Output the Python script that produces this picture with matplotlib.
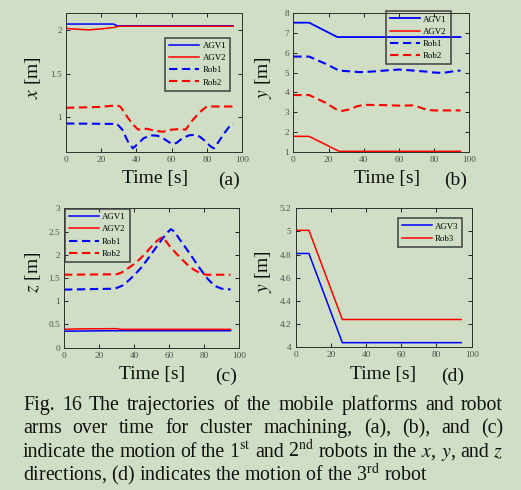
import numpy as np
import matplotlib
matplotlib.use('Agg')
import matplotlib.pyplot as plt

W, H = 521, 490
BG = '#cfdec4'

plt.rcParams['font.family'] = ['Liberation Serif', 'DejaVu Serif']
plt.rcParams['mathtext.fontset'] = 'stix'

# ---- data ----
# (a) x direction
t_agv1_x = [0, 27, 29, 95]
agv1_x = [2.07, 2.07, 2.05, 2.05]
t_agv2_x = [0, 7, 13, 20, 27, 30, 95]
agv2_x = [2.02, 2.01, 2.003, 2.015, 2.03, 2.045, 2.045]
t_rob1_x = [0, 29, 32, 35, 38, 41, 44, 48, 52, 56, 59, 61, 63, 66, 70, 73, 76, 79, 82, 84, 87, 90, 93, 95]
rob1_x = [0.93, 0.925, 0.86, 0.73, 0.645, 0.70, 0.76, 0.795, 0.79, 0.75, 0.71, 0.695, 0.71, 0.76,
          0.795, 0.80, 0.78, 0.73, 0.67, 0.645, 0.73, 0.82, 0.90, 0.93]
t_rob2_x = [0, 20, 29, 31, 35, 38, 41, 46, 50, 55, 60, 64, 68, 72, 76, 80, 95]
rob2_x = [1.11, 1.12, 1.14, 1.12, 1.0, 0.92, 0.86, 0.87, 0.85, 0.835, 0.86, 0.865, 0.86, 0.97, 1.06, 1.125, 1.125]

# (b) y direction
t_agv1_y = [0, 9, 25, 95]
agv1_y = [7.5, 7.5, 6.78, 6.78]
t_agv2_y = [0, 9, 26, 95]
agv2_y = [1.8, 1.8, 1.05, 1.05]
t_rob1_y = [0, 9, 18, 26, 32, 38, 45, 52, 60, 68, 75, 80, 85, 90, 95]
rob1_y = [5.8, 5.8, 5.45, 5.1, 5.06, 5.02, 5.05, 5.1, 5.15, 5.1, 5.05, 5.0, 4.98, 5.05, 5.1]
t_rob2_y = [0, 9, 18, 25, 28, 32, 36, 40, 50, 60, 68, 72, 76, 80, 95]
rob2_y = [3.87, 3.87, 3.5, 3.12, 3.08, 3.15, 3.3, 3.38, 3.37, 3.34, 3.35, 3.25, 3.12, 3.1, 3.1]

# (c) z direction
t_agv1_z = [0, 25, 95]
agv1_z = [0.355, 0.365, 0.365]
t_agv2_z = [0, 8, 30, 32, 95]
agv2_z = [0.395, 0.405, 0.41, 0.395, 0.395]
t_rob1_z = [0, 29, 33, 37, 41, 44, 48, 52, 56, 59, 61, 63, 66, 70, 74, 78, 82, 86, 90, 93, 95]
rob1_z = [1.25, 1.27, 1.33, 1.45, 1.6, 1.72, 1.92, 2.13, 2.34, 2.48, 2.55, 2.5, 2.33, 2.12, 1.9, 1.68,
          1.48, 1.33, 1.27, 1.25, 1.26]
t_rob2_z = [0, 30, 33, 37, 40, 43, 46, 49, 52, 54, 56, 58, 60, 63, 66, 70, 74, 78, 81, 95]
rob2_z = [1.57, 1.58, 1.62, 1.72, 1.8, 1.9, 2.01, 2.14, 2.26, 2.33, 2.38, 2.3, 2.2, 2.07, 1.95, 1.8, 1.68,
          1.6, 1.57, 1.57]

# (d) third robot
t_agv3 = [0, 7.5, 26.5, 94]
agv3_y = [4.81, 4.81, 4.04, 4.04]
t_rob3 = [0, 7.5, 26.5, 94]
rob3_y = [5.01, 5.01, 4.24, 4.24]

fig = plt.figure(figsize=(W / 100, H / 100), dpi=100, facecolor=BG)


def px_axes(l, r, t, b):
    ax = fig.add_axes([l / W, 1 - b / H, (r - l) / W, (b - t) / H])
    ax.set_facecolor('none')
    ax.set_xlim(0, 100)
    ax.set_xticks([0, 20, 40, 60, 80, 100])
    ax.tick_params(direction='in', top=True, right=True, labelsize=6.7, length=3,
                   width=0.7, color='#202020', labelcolor='#505050', pad=3)
    for s in ax.spines.values():
        s.set_linewidth(0.7)
        s.set_color('#303030')
    return ax


def fig_text(x, y, s, **kw):
    fig.text(x / W, 1 - y / H, s, ha='center', va='center', color='#111111', **kw)


dash = (0, (4, 2.2))
legkw = dict(fontsize=6.4, frameon=True, fancybox=False, edgecolor='#404040', facecolor='none',
             framealpha=1, handlelength=3.4, labelspacing=0.45, borderpad=0.45,
             handletextpad=0.35, borderaxespad=0)

# (a)
ax = px_axes(66, 242, 12.7, 152.3)
ax.plot(t_agv1_x, agv1_x, color='#0000ff', lw=1.1, label='AGV1')
ax.plot(t_agv2_x, agv2_x, color='#ff0000', lw=1.1, label='AGV2')
ax.plot(t_rob1_x, rob1_x, color='#0000ff', lw=1.5, ls=dash, label='Rob1')
ax.plot(t_rob2_x, rob2_x, color='#ff0000', lw=1.5, ls=dash, label='Rob2')
ax.set_ylim(0.6, 2.2)
ax.set_yticks([1, 1.5, 2])
ax.set_yticklabels(['1', '1.5', '2'])
leg = ax.legend(loc='upper right', bbox_to_anchor=(0.932, 0.821), **legkw)
leg.get_frame().set_linewidth(1.1)

# (b)
ax = px_axes(293.3, 469.3, 12.7, 152.3)
ax.plot(t_agv1_y, agv1_y, color='#0000ff', lw=1.3, label='AGV1')
ax.plot(t_agv2_y, agv2_y, color='#ff0000', lw=1.1, label='AGV2')
ax.plot(t_rob1_y, rob1_y, color='#0000ff', lw=1.5, ls=dash, label='Rob1')
ax.plot(t_rob2_y, rob2_y, color='#ff0000', lw=1.5, ls=dash, label='Rob2')
ax.set_ylim(1, 8)
ax.set_yticks(range(1, 9))
leg = ax.legend(loc='upper right', bbox_to_anchor=(0.894, 1.01), **legkw)
leg.get_frame().set_linewidth(1.1)

# (c)
ax = px_axes(64, 239.3, 208.3, 347.7)
ax.plot(t_agv1_z, agv1_z, color='#0000ff', lw=1.1, label='AGV1')
ax.plot(t_agv2_z, agv2_z, color='#ff0000', lw=1.1, label='AGV2')
ax.plot(t_rob1_z, rob1_z, color='#0000ff', lw=1.5, ls=dash, label='Rob1')
ax.plot(t_rob2_z, rob2_z, color='#ff0000', lw=1.5, ls=dash, label='Rob2')
ax.set_ylim(0, 3)
ax.set_yticks([0, 0.5, 1, 1.5, 2, 2.5, 3])
ax.set_yticklabels(['0', '0.5', '1', '1.5', '2', '2.5', '3'])
leg = ax.legend(loc='upper left', bbox_to_anchor=(0.005, 0.995), **legkw)
leg.get_frame().set_linewidth(1.1)

# (d)
ax = px_axes(295.7, 471.7, 208.3, 347.3)
ax.plot(t_agv3, agv3_y, color='#0000ff', lw=1.1, label='AGV3')
ax.plot(t_rob3, rob3_y, color='#ff0000', lw=1.1, label='Rob3')
ax.set_ylim(4, 5.2)
ax.set_yticks([4, 4.2, 4.4, 4.6, 4.8, 5, 5.2])
ax.set_yticklabels(['4', '4.2', '4.4', '4.6', '4.8', '5', '5.2'])
leg = ax.legend(loc='upper right', bbox_to_anchor=(0.947, 0.928), **legkw)
leg.get_frame().set_linewidth(1.1)

# axis labels
for xc, yc, lab, xl, yl in [(155, 178, '(a)', 229, 180), (387, 178, '(b)', 456, 180),
                            (152, 375, '(c)', 226, 376), (383, 375, '(d)', 453, 376)]:
    fig_text(xc, yc, 'Time [s]', fontsize=14)
    fig_text(xl, yl, lab, fontsize=14)
fig_text(33, 78, '$x$ [m]', fontsize=14, rotation=90)
fig_text(263, 78, '$y$ [m]', fontsize=14, rotation=90)
fig_text(33, 272, '$z$ [m]', fontsize=14, rotation=90)
fig_text(263, 272, '$y$ [m]', fontsize=14, rotation=90)

# caption, first three lines justified word by word
cap_lines = [
    ('Fig. 16 The trajectories of the mobile platforms and robot', True),
    ('arms over time for cluster machining, (a), (b), and (c)', True),
    (r'indicate the motion of the 1$^{\mathrm{st}}$ and 2$^{\mathrm{nd}}$ robots in the $x$, $y$, and $z$', True),
    (r'directions, (d) indicates the motion of the 3$^{\mathrm{rd}}$ robot', False),
]
cap_left, cap_right = 23, 503
baselines = [410, 433, 457, 481]
cap_size = 14.3
fig.canvas.draw()
rend = fig.canvas.get_renderer()
for (line, justify), yb in zip(cap_lines, baselines):
    if not justify:
        fig.text(cap_left / W, 1 - yb / H, line, fontsize=cap_size, va='baseline', ha='left',
                 color='#111111')
        continue
    words = line.split(' ')
    texts = [fig.text(0, 1 - yb / H, w, fontsize=cap_size, va='baseline', ha='left',
                      color='#111111') for w in words]
    widths = [t.get_window_extent(rend).width for t in texts]
    gap = (cap_right - cap_left - sum(widths)) / (len(words) - 1)
    x = cap_left
    for t, w in zip(texts, widths):
        t.set_x(x / W)
        x += w + gap

fig.savefig('out.png', dpi=100, facecolor=BG)
